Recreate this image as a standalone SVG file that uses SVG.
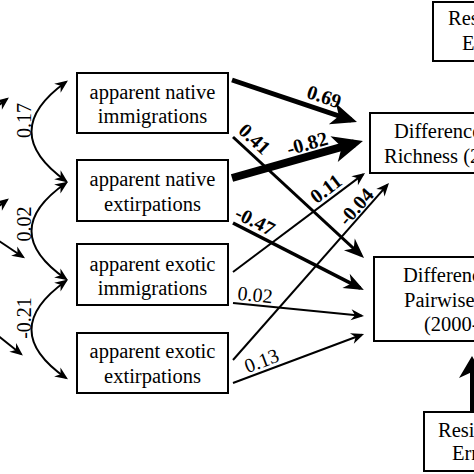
<svg xmlns="http://www.w3.org/2000/svg" width="474" height="474" viewBox="0 0 474 474">
<style>
.box{fill:#fff;stroke:#000;stroke-width:2}
.t{font-family:"Liberation Serif","Times New Roman",serif;font-size:20.5px;fill:#000}
.tc{text-anchor:middle}
.lb{font-family:"Liberation Serif","Times New Roman",serif;font-size:20px;font-weight:bold;fill:#000;text-anchor:middle}
.lr{font-family:"Liberation Serif","Times New Roman",serif;font-size:20px;fill:#000;text-anchor:middle}
.c{fill:none;stroke:#000}
</style>
<defs>
<marker id="hs" viewBox="-14 -7 16 14" markerWidth="16" markerHeight="14" refX="-2.4" refY="0" orient="auto-start-reverse" markerUnits="userSpaceOnUse"><path d="M0,0 L-13,-5.5 L-9,0 L-13,5.5 Z"/></marker>
<marker id="hm" viewBox="-22 -10 24 20" markerWidth="24" markerHeight="20" refX="-4" refY="0" orient="auto" markerUnits="userSpaceOnUse"><path d="M0,0 L-20,-8 L-14,0 L-20,8 Z"/></marker>
<marker id="hl" viewBox="-28 -12 30 24" markerWidth="30" markerHeight="24" refX="-6" refY="0" orient="auto" markerUnits="userSpaceOnUse"><path d="M0,0 L-26,-11 L-19,0 L-26,11 Z"/></marker>
<marker id="hx" viewBox="-32 -15 34 30" markerWidth="34" markerHeight="30" refX="-9" refY="0" orient="auto" markerUnits="userSpaceOnUse"><path d="M0,0 L-30,-13.5 L-22,0 L-30,13.5 Z"/></marker>
<marker id="hr" viewBox="-24 -14 26 28" markerWidth="26" markerHeight="28" refX="-4" refY="0" orient="auto" markerUnits="userSpaceOnUse"><path d="M0,0 L-22,-13 L-16,0 L-22,13 Z"/></marker>
</defs>

<g id="connectors">
<!-- covariance curves -->
<path class="c" stroke-width="2" d="M66,82 Q -3,131.5 66,181" marker-start="url(#hs)" marker-end="url(#hs)"/>
<path class="c" stroke-width="2" d="M66,183 Q -3,231 66,279" marker-start="url(#hs)" marker-end="url(#hs)"/>
<path class="c" stroke-width="2" d="M66,281 Q -3,330 66,378" marker-start="url(#hs)" marker-end="url(#hs)"/>
<!-- fragments at left edge -->
<path class="c" stroke-width="2" d="M-10,112 L7,99" marker-end="url(#hs)"/>
<path class="c" stroke-width="2" d="M-10,213 L7,200" marker-end="url(#hs)"/>
<path class="c" stroke-width="2" d="M-4,239 L23,257" marker-end="url(#hs)"/>
<path class="c" stroke-width="2" d="M-4,334 L21,354" marker-end="url(#hs)"/>
<!-- paths -->
<path class="c" stroke-width="5" d="M232,80 L351.3,120.1" marker-end="url(#hl)"/>
<path class="c" stroke-width="8" d="M232,178 L354.3,143.4" marker-end="url(#hx)"/>
<path class="c" stroke-width="3" d="M233,137 L361.1,255.3" marker-end="url(#hm)"/>
<path class="c" stroke-width="3.5" d="M233,223 L360.3,288.1" marker-end="url(#hm)"/>
<path class="c" stroke-width="2" d="M233,272 L363.1,174.4" marker-end="url(#hs)"/>
<path class="c" stroke-width="2" d="M233,360 L387.4,184.8" marker-end="url(#hs)"/>
<path class="c" stroke-width="2" d="M233,303 L361.6,315.8" marker-end="url(#hs)"/>
<path class="c" stroke-width="2" d="M233,383 L361.8,334.8" marker-end="url(#hs)"/>
<!-- residual arrows -->
<path class="c" stroke-width="4" d="M472,412 L472,360" marker-end="url(#hr)"/>
<path class="c" stroke-width="4" d="M487,61 L487,93" marker-end="url(#hr)"/>
</g>

<g id="labels">
<text class="lb" x="322" y="103" transform="rotate(18.5 322 103)">0.69</text>
<text class="lb" x="309" y="150" transform="rotate(-15.8 309 150)">-0.82</text>
<text class="lb" x="250" y="144" transform="rotate(43 250 144)">0.41</text>
<text class="lb" x="252" y="227" transform="rotate(27 252 227)">-0.47</text>
<text class="lb" x="330" y="194" transform="rotate(-37 330 194)">0.11</text>
<text class="lb" x="361" y="211" transform="rotate(-48.6 361 211)">-0.04</text>
<text class="lr" x="254.5" y="301.5" transform="rotate(5.7 254.5 301.5)">0.02</text>
<text class="lr" x="264" y="367" transform="rotate(-20.5 264 367)">0.13</text>
<text class="lr" x="31" y="120.5" transform="rotate(-90 31 120.5)">0.17</text>
<text class="lr" x="31" y="224" transform="rotate(-90 31 224)">0.02</text>
<text class="lr" x="31" y="318" transform="rotate(-90 31 318)">-0.21</text>
</g>

<g id="n1">
<rect class="box" x="77" y="73" width="151" height="60"/>
<text class="t tc" x="152.5" y="99">apparent native</text>
<text class="t tc" x="152.5" y="123">immigrations</text>
</g>
<g id="n2">
<rect class="box" x="77" y="160" width="151" height="61"/>
<text class="t tc" x="152.5" y="186">apparent native</text>
<text class="t tc" x="152.5" y="210.5">extirpations</text>
</g>
<g id="n3">
<rect class="box" x="77" y="244" width="151" height="61"/>
<text class="t tc" x="152.5" y="271">apparent exotic</text>
<text class="t tc" x="152.5" y="295">immigrations</text>
</g>
<g id="n4">
<rect class="box" x="77" y="333" width="151" height="60"/>
<text class="t tc" x="152.5" y="358">apparent exotic</text>
<text class="t tc" x="152.5" y="382.5">extirpations</text>
</g>
<g id="n5">
<rect class="box" x="370" y="113" width="200" height="60"/>
<text class="t" x="394" y="138">Difference in</text>
<text class="t" x="384" y="163">Richness (2000-2007)</text>
</g>
<g id="n6">
<rect class="box" x="374" y="257" width="200" height="84"/>
<text class="t" x="403" y="282">Difference in</text>
<text class="t" x="404" y="306.5">Pairwise Similarity</text>
<text class="t" x="424" y="331">(2000-2007)</text>
</g>
<g id="n7">
<rect class="box" x="433" y="2" width="100" height="59"/>
<text class="t" x="448" y="25">Residual</text>
<text class="t" x="462" y="50">Error</text>
</g>
<g id="n8">
<rect class="box" x="424" y="412" width="100" height="59"/>
<text class="t" x="438" y="437">Residual</text>
<text class="t" x="452" y="460">Error</text>
</g>
</svg>
